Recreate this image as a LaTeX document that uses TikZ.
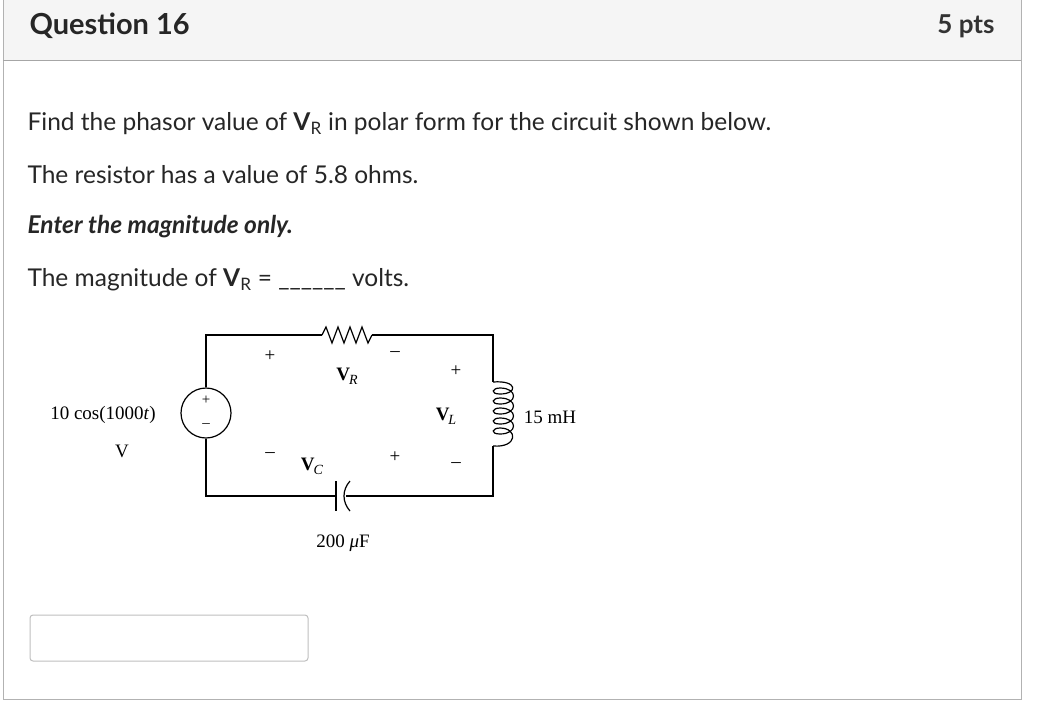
\documentclass[tikz,border=0pt]{standalone}
\usepackage{fontspec}
\setmainfont{Lato}
\newfontfamily\circfont{Liberation Serif}
\tikzset{w/.style={line width=1.2pt},
 ct/.style={font=\circfont\fontsize{19}{20}\selectfont},
 bt/.style={anchor=west,font=\fontsize{24.5}{28}\selectfont,text=black!85}}
\newcommand{\vsub}[1]{{\bfseries V}\kern-1pt\raisebox{-4pt}{\fontsize{14}{14}\selectfont\itshape #1}}
\begin{document}
\begin{tikzpicture}[x=1pt,y=-1pt]
\useasboundingbox (0,0) rectangle (1043,726);
\fill[white] (0,0) rectangle (1043,726);
\fill[black!4] (3,0) rectangle (1021,60);
\draw[black!30,line width=1pt] (3,0) -- (3,699) -- (1021,699) -- (1021,0);
\draw[black!35,line width=1pt] (3,60) -- (1021,60);
\node[anchor=west,font=\bfseries\fontsize{29}{32}\selectfont,text=black!85] (q) at (26,26) {Question 16};
\node[anchor=east,font=\bfseries\fontsize{26}{30}\selectfont,text=black!80] (p) at (998,26) {5 pts};
\node[bt] (t1) at (24,124) {Find the phasor value of \textbf{V}\textsubscript{R} in polar form for the circuit shown below.};
\node[bt] (t2) at (24,175) {The resistor has a value of 5.8 ohms.};
\node[bt,font=\bfseries\itshape\fontsize{24.5}{28}\selectfont] (t3) at (24,227) {Enter the magnitude only.};
\node[bt] (t4) at (24,280) {The magnitude of \textbf{V}\textsubscript{R} = \_\_\_\_\_\_ volts.};
% circuit
\coordinate (tl) at (206,335); \coordinate (tr) at (493,335);
\coordinate (bl) at (206,496); \coordinate (br) at (493,496);
\node[circle,draw,w,minimum size=50pt,inner sep=0] (src) at (206,413) {};
\node[font=\circfont\fontsize{15}{15}\selectfont] (sp) at (206,400) {+};
\node[font=\circfont\fontsize{15}{15}\selectfont] (sm) at (206,426) {–};
\coordinate (r1) at (322,335); \coordinate (r2) at (372,335);
\coordinate (l1) at (493,382); \coordinate (l2) at (493,446);
\coordinate (c1) at (336,496); \coordinate (c2) at (346,496);
\draw[w] (src.north) -- (tl) -- (r1);
\draw[w] (r1) -- (326,327) -- (332,343) -- (338,327) -- (344,343) -- (350,327) -- (356,343) -- (362,327) -- (368,343) -- (r2);
\draw[w] (r2) -- (tr) -- (l1);
\draw[w] (l1) .. controls (518,380) and (518,394) .. (500,394) .. controls (490,394) and (492,388) .. (500,388)
 .. controls (518,388) and (518,404) .. (500,404) .. controls (490,404) and (492,398) .. (500,398)
 .. controls (518,398) and (518,414) .. (500,414) .. controls (490,414) and (492,408) .. (500,408)
 .. controls (518,408) and (518,424) .. (500,424) .. controls (490,424) and (492,418) .. (500,418)
 .. controls (518,418) and (518,434) .. (500,434) .. controls (490,434) and (492,428) .. (500,428)
 .. controls (518,428) and (518,448) .. (l2);
\draw[w] (l2) -- (br) -- (c2);
\draw[w] (c1) -- (bl) -- (src.south);
\draw[w] (336,481) -- (336,511);
\draw[w] (350,481) .. controls (342,490) and (342,502) .. (350,511);
\node[ct] (vp1) at (270,356) {+};
\node[ct] (vr) at (347,376) {\vsub{R}};
\node[ct] (vm1) at (395,354) {–};
\node[ct] (vp2) at (456,371) {+};
\node[ct] (vl) at (446,416) {\vsub{L}};
\node[ct] (vm2) at (456,465) {–};
\node[ct] (vm3) at (270,455) {–};
\node[ct] (vc) at (312,466) {\vsub{C}};
\node[ct] (vp3) at (395,457) {+};
\node[ct] (cap) at (343,543) {200 \textit{μ}F};
\node[ct] (ind) at (550,417) {15 mH};
\node[ct] (srcl) at (103,415) {10 cos(1000\textit{t})};
\node[ct] (srcv) at (122,451) {V};
\draw[black!25,line width=1pt,rounded corners=3pt] (30,615) rectangle (308,661);
\end{tikzpicture}
\end{document}
